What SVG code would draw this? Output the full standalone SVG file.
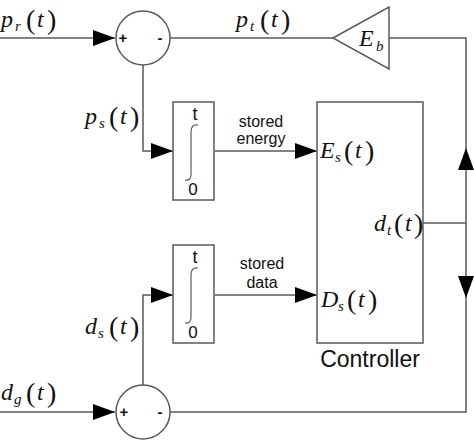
<svg xmlns="http://www.w3.org/2000/svg" width="474" height="440" viewBox="0 0 474 440">
<style>
.ln{fill:none;stroke:#5a5a5a;stroke-width:1.5}
.bx{fill:#fff;stroke:#5a5a5a;stroke-width:1.5}
.m{font-family:"Liberation Serif",serif;font-style:italic;font-size:24px;fill:#111}
.sub{font-size:15px}
.par{font-style:normal;font-size:28px}
.s{font-family:"Liberation Sans",Arial,sans-serif;font-size:16px;fill:#111}
.sg{font-family:"Liberation Sans",Arial,sans-serif;font-size:15px;fill:#111;font-weight:bold}
.ah{fill:#000}
</style>
<defs>
<marker id="arr" markerUnits="userSpaceOnUse" markerWidth="24" markerHeight="16" refX="22" refY="8" orient="auto">
<path d="M0,0 L22,8 L0,16 Z" fill="#000"/>
</marker>
</defs>
<g id="connectors">
<line class="ln" x1="0" y1="38" x2="115" y2="38" marker-end="url(#arr)"/>
<line class="ln" x1="170" y1="38" x2="333" y2="38"/>
<polyline class="ln" points="389,38 466,38 466,412 170,412"/>
<polyline class="ln" points="143,65 143,151 173,151" marker-end="url(#arr)"/>
<line class="ln" x1="215" y1="151" x2="317" y2="151" marker-end="url(#arr)"/>
<line class="ln" x1="0" y1="412" x2="115" y2="412" marker-end="url(#arr)"/>
<polyline class="ln" points="143,385 143,295 173,295" marker-end="url(#arr)"/>
<line class="ln" x1="215" y1="295" x2="317" y2="295" marker-end="url(#arr)"/>
<line class="ln" x1="423" y1="223" x2="466" y2="223"/>
<path class="ah" d="M466,148 L474,170 L458,170 Z"/>
<path class="ah" d="M466,298 L474,276 L458,276 Z"/>
<text class="s" x="261" y="127" text-anchor="middle">stored</text>
<text class="s" x="261" y="144" text-anchor="middle">energy</text>
<text class="s" x="262" y="269" text-anchor="middle">stored</text>
<text class="s" x="262" y="288" text-anchor="middle">data</text>
</g>
<g id="label-pr">
<text class="m" x="1" y="27">p</text><text class="m sub" x="15" y="31">r</text><text class="m par" x="26" y="29">(</text><text class="m" x="37" y="27">t</text><text class="m par" x="47" y="29">)</text>
</g>
<g id="label-pt">
<text class="m" x="236" y="27">p</text><text class="m sub" x="250" y="31">t</text><text class="m par" x="260" y="29">(</text><text class="m" x="271" y="27">t</text><text class="m par" x="281" y="29">)</text>
</g>
<g id="label-ps">
<text class="m" x="85" y="124">p</text><text class="m sub" x="99" y="128">s</text><text class="m par" x="109" y="126">(</text><text class="m" x="120" y="124">t</text><text class="m par" x="130" y="126">)</text>
</g>
<g id="label-ds">
<text class="m" x="85" y="334">d</text><text class="m sub" x="98" y="338">s</text><text class="m par" x="109" y="336">(</text><text class="m" x="120" y="334">t</text><text class="m par" x="130" y="336">)</text>
</g>
<g id="label-dg">
<text class="m" x="1" y="400">d</text><text class="m sub" x="14" y="404">g</text><text class="m par" x="26" y="402">(</text><text class="m" x="37" y="400">t</text><text class="m par" x="47" y="402">)</text>
</g>
<g id="sum-top">
<circle class="bx" cx="143" cy="38" r="27"/>
<text class="sg" x="123" y="43" text-anchor="middle">+</text>
<text class="sg" x="160" y="43" text-anchor="middle">-</text>
</g>
<g id="sum-bottom">
<circle class="bx" cx="143" cy="412" r="27"/>
<text class="sg" x="124" y="417" text-anchor="middle">+</text>
<text class="sg" x="160" y="417" text-anchor="middle">-</text>
</g>
<g id="gain-Eb">
<polygon class="bx" points="333,38 389,7 389,69"/>
<text class="m" x="359" y="46">E</text><text class="m sub" x="376" y="51">b</text>
</g>
<g id="integrator-energy">
<rect class="bx" x="173" y="102" width="41" height="98"/>
<text class="s" x="195" y="120" text-anchor="middle" style="font-size:18px">t</text>
<path class="ln" d="M198,125 Q191,124 191,132 L191,174 Q191,181 185,180" style="stroke-width:1.2"/>
<text class="s" x="193" y="195" text-anchor="middle" style="font-size:17px">0</text>
</g>
<g id="integrator-data">
<rect class="bx" x="173" y="245" width="41" height="98"/>
<text class="s" x="195" y="263" text-anchor="middle" style="font-size:18px">t</text>
<path class="ln" d="M198,268 Q191,267 191,275 L191,317 Q191,324 185,323" style="stroke-width:1.2"/>
<text class="s" x="193" y="338" text-anchor="middle" style="font-size:17px">0</text>
</g>
<g id="controller">
<rect class="bx" x="317" y="102" width="106" height="241"/>
<text class="m" x="320" y="158">E</text><text class="m sub" x="335" y="162">s</text><text class="m par" x="344" y="160">(</text><text class="m" x="355" y="158">t</text><text class="m par" x="365" y="160">)</text>
<text class="m" x="374" y="231">d</text><text class="m sub" x="387" y="235">t</text><text class="m par" x="394" y="233">(</text><text class="m" x="405" y="231">t</text><text class="m par" x="414" y="233">)</text>
<text class="m" x="321" y="307">D</text><text class="m sub" x="338" y="311">s</text><text class="m par" x="347" y="309">(</text><text class="m" x="358" y="307">t</text><text class="m par" x="368" y="309">)</text>
<text class="s" x="370" y="367" text-anchor="middle" style="font-size:23px">Controller</text>
</g>
</svg>
